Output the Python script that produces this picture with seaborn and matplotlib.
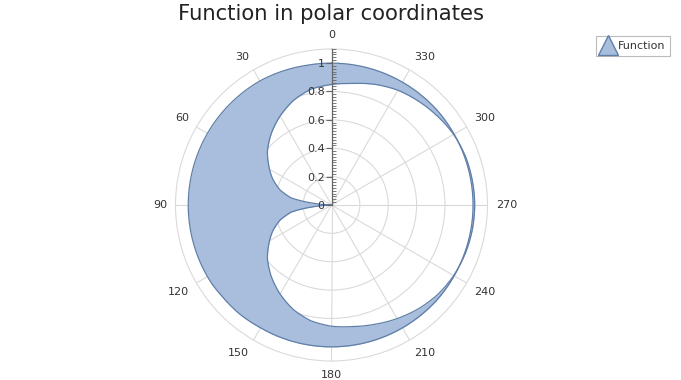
import numpy as np
import matplotlib
matplotlib.use("Agg")
import matplotlib.pyplot as plt
import seaborn as sns
from matplotlib.lines import Line2D
from matplotlib.ticker import MultipleLocator

# ---- data (angle in degrees, radius) ----
angles_deg = [0, 10, 20, 30, 40, 50, 57, 60, 63, 66, 70, 74, 77, 80, 82, 84, 86, 88,
              90, 92, 94, 96, 98, 100, 103, 106, 110, 114, 117, 120, 123,
              130, 140, 150, 160, 170, 180, 190, 200, 210, 220, 230, 240, 250, 260,
              270, 280, 290, 300, 310, 320, 330, 340, 350, 360]
inner_r = [0.85, 0.83, 0.785, 0.725, 0.66, 0.59, 0.53, 0.505, 0.48, 0.455, 0.415,
           0.375, 0.33, 0.29, 0.225, 0.15, 0.08, 0.03,
           0.0, 0.03, 0.08, 0.15, 0.225, 0.29, 0.33, 0.375, 0.415, 0.455, 0.48,
           0.505, 0.53,
           0.59, 0.66, 0.725, 0.785, 0.83, 0.855, 0.87, 0.895, 0.925, 0.955, 0.98,
           0.995, 1.003, 1.008,
           1.01, 1.008, 1.005, 0.995, 0.975, 0.955, 0.935, 0.905, 0.87, 0.85]
outer_r = [1.0, 1.0, 1.005, 1.01, 1.01, 1.01, 1.01, 1.01, 1.01, 1.01, 1.01,
           1.01, 1.01, 1.01, 1.01, 1.01, 1.01, 1.01,
           1.01, 1.01, 1.01, 1.01, 1.01, 1.01, 1.01, 1.01, 1.01, 1.01, 1.01,
           1.01, 1.01,
           1.005, 1.005, 1.0, 1.0, 1.0, 1.0, 1.0, 1.0, 1.0, 1.0, 1.0,
           0.998, 0.998, 0.998,
           0.998, 0.998, 0.998, 0.998, 1.0, 1.0, 1.0, 1.0, 1.0, 1.0]
theta_ticks = list(range(0, 360, 30))
theta_labels = [str(a) for a in theta_ticks]
r_ticks = [0, 0.2, 0.4, 0.6, 0.8, 1.0]
r_labels = ["0", "0.2", "0.4", "0.6", "0.8", "1"]
series_name = "Function"
title = "Function in polar coordinates"

sns.set_theme(style="white")
plt.rcParams["font.family"] = ["DejaVu Sans"]

FILL = "#a9bedd"
EDGE = "#5f7fa9"
GRID = "#dadada"
TXT = "#333333"
RMAX = 1.1

W, H = 681, 380
fig = plt.figure(figsize=(W / 100, H / 100), dpi=100)
cx, cy, R = 331.5, 205.0, 156.0
ax = fig.add_axes([(cx - R) / W, (H - cy - R) / H, 2 * R / W, 2 * R / H],
                  projection="polar")
ax.set_theta_zero_location("N")
ax.set_theta_direction(1)

theta = np.deg2rad(angles_deg)
poly = ax.fill_between(theta, inner_r, outer_r, color=FILL, lw=0, zorder=2)
for p in poly.get_paths():
    p._interpolation_steps = 20
sns.lineplot(x=theta, y=inner_r, ax=ax, color=EDGE, lw=0.9, sort=False,
             estimator=None, legend=False, zorder=3)
sns.lineplot(x=theta, y=outer_r, ax=ax, color=EDGE, lw=0.9, sort=False,
             estimator=None, legend=False, zorder=3)
for ln in ax.get_lines():
    ln.get_path()._interpolation_steps = 20
    ln.set_data(*ln.get_data())

ax.set_ylim(0, RMAX)
ax.set_yticks([0.2, 0.4, 0.6, 0.8, 1.0])
ax.set_yticklabels([])
ax.set_xticks(np.deg2rad(theta_ticks))
ax.set_xticklabels([])
ax.grid(True, color=GRID, lw=0.8)
ax.spines["polar"].set_color(GRID)
ax.spines["polar"].set_linewidth(0.8)
ax.set_xlabel("")
ax.set_ylabel("")

# angular labels, anchored just outside the outer circle
gap = 6.2  # points
for a, lab in zip(theta_ticks, theta_labels):
    t = np.deg2rad(a)
    ux, uy = -np.sin(t), np.cos(t)
    if abs(ux) < 1e-6:
        ha = "center"
    else:
        ha = "right" if ux < 0 else "left"
    if abs(uy) < 1e-6:
        va = "center"
    else:
        va = "bottom" if uy > 0 else "top"
    ax.annotate(lab, xy=(t, RMAX), xytext=(gap * ux, gap * uy),
                textcoords="offset points", ha=ha, va=va, fontsize=8,
                color=TXT, annotation_clip=False)

# radial axis drawn along the 0-degree direction
rax = fig.add_axes([cx / W, (H - cy) / H, 0.0001, RMAX * 142 / H])
rax.set_ylim(0, RMAX)
rax.patch.set_alpha(0)
for s in ["top", "right", "bottom"]:
    rax.spines[s].set_visible(False)
rax.spines["left"].set_color("#666666")
rax.spines["left"].set_linewidth(0.9)
rax.set_xticks([])
rax.set_yticks(r_ticks)
rax.set_yticklabels(r_labels)
rax.yaxis.set_minor_locator(MultipleLocator(0.02))
rax.tick_params(axis="y", which="major", direction="out", length=4, width=0.8,
                color="#666666", labelsize=8, labelcolor=TXT, pad=1, left=True)
rax.tick_params(axis="y", which="minor", direction="in", length=3, width=0.6,
                color="#666666", left=True)

fig.text(cx / W, 1 - 14 / H, title, ha="center", va="center", fontsize=15.2,
         color="#222222")

handle = Line2D([], [], marker="^", color=FILL, markeredgecolor=EDGE,
                markersize=14, linestyle="none")
leg = fig.legend([handle], [series_name], loc="upper right",
                 bbox_to_anchor=(670 / W, 1 - 36 / H), frameon=True,
                 fancybox=False, edgecolor="#aaaaaa", fontsize=8, borderpad=0.45,
                 handlelength=1.2, handletextpad=0.3, borderaxespad=0)
leg.get_frame().set_linewidth(0.8)
for t in leg.get_texts():
    t.set_color(TXT)

fig.savefig("out.png", dpi=100)
